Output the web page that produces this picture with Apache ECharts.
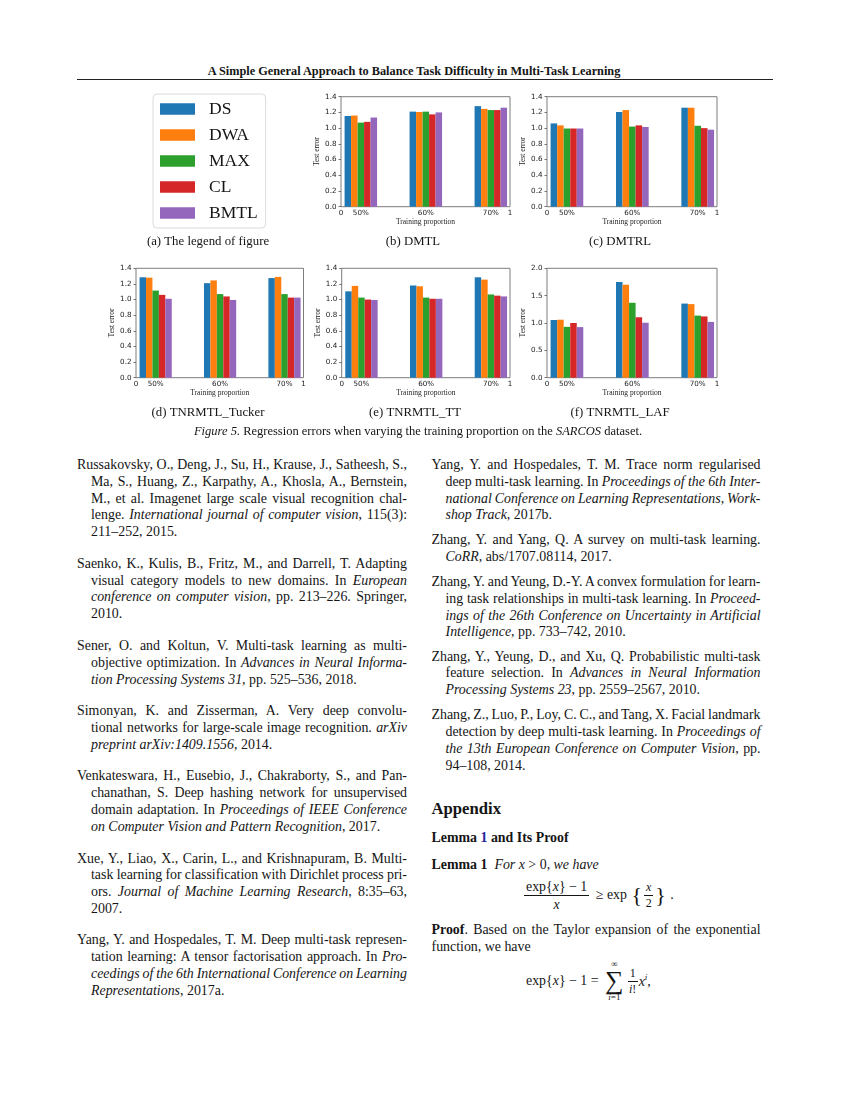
<!DOCTYPE html>
<html>
<head>
<meta charset="utf-8">
<script src="https://cdn.jsdelivr.net/npm/echarts@6/dist/echarts.min.js"></script>
<style>
html,body{margin:0;padding:0;background:#fff;}
#page{position:relative;width:850px;height:1100px;overflow:hidden;font-family:"Liberation Serif","Times New Roman",serif;color:#151515;background:#fff;}
#chart{position:absolute;left:0;top:0;width:850px;height:450px;}
.ln{position:absolute;height:16.8px;line-height:16.8px;font-size:13.9px;white-space:nowrap;}
.abs{position:absolute;white-space:nowrap;}
.math{position:absolute;display:flex;align-items:center;font-size:13.9px;white-space:nowrap;}
.frac{display:inline-flex;flex-direction:column;align-items:center;margin:0 3px;}
.frac .num{border-bottom:0.9px solid #151515;padding:0 2px;line-height:17px;}
.frac .den{line-height:17px;}
.big{font-size:22px;line-height:22px;margin:0 1px;}
.sumcol{display:inline-flex;flex-direction:column;align-items:center;margin:0 3px;}
.sumcol .lim{font-size:9px;line-height:11px;}
.sumcol .sig{font-size:26px;line-height:22px;}
</style>
</head>
<body>
<div id="page">
  <div class="abs" id="title" style="left:414px;top:64px;transform:translateX(-50%);font-weight:bold;font-size:12.3px;line-height:14px;">A Simple General Approach to Balance Task Difficulty in Multi-Task Learning</div>
  <div class="abs" style="left:77px;top:79px;width:696px;height:1.4px;background:#222;"></div>
  <div id="chart"></div>
  <div class="abs" style="left:418px;top:424px;transform:translateX(-50%);font-size:12.5px;line-height:15px;"><i>Figure 5.</i> Regression errors when varying the training proportion on the <i>SARCOS</i> dataset.</div>
</div>
<script>
// ---------------- data ----------------
const methods = ['DS', 'DWA', 'MAX', 'CL', 'BMTL'];
const proportions = ['50%', '60%', '70%'];
const groupPos = [0, 1, 2];
const xTickPos = [-0.305, 0, 1, 2, 2.295];
const xTickLabels = ['0', '50%', '60%', '70%', '1'];
const methodColors = ['#1f77b4', '#ff7f0e', '#2ca02c', '#d62728', '#9467bd'];

// rows = methods (DS, DWA, MAX, CL, BMTL), columns = proportions (50%, 60%, 70%)
const errDMTL = [
  [1.155, 1.21, 1.28],
  [1.16, 1.205, 1.245],
  [1.07, 1.21, 1.23],
  [1.08, 1.175, 1.23],
  [1.135, 1.20, 1.26]
];
const errDMTRL = [
  [1.06, 1.205, 1.26],
  [1.035, 1.23, 1.26],
  [0.995, 1.02, 1.03],
  [0.995, 1.035, 1.0],
  [0.995, 1.015, 0.98]
];
const errTucker = [
  [1.285, 1.21, 1.275],
  [1.28, 1.245, 1.29],
  [1.115, 1.07, 1.07],
  [1.06, 1.04, 1.025],
  [1.01, 0.995, 1.025]
];
const errTT = [
  [1.105, 1.18, 1.285],
  [1.175, 1.17, 1.255],
  [1.025, 1.025, 1.065],
  [1.0, 1.01, 1.05],
  [0.995, 1.01, 1.04]
];
const errLAF = [
  [1.055, 1.75, 1.355],
  [1.06, 1.70, 1.345],
  [0.93, 1.37, 1.135],
  [1.0, 1.105, 1.12],
  [0.925, 1.005, 1.02]
];
const panelData = [errDMTL, errDMTRL, errTucker, errTT, errLAF];
const panelYMax = [1.4, 1.4, 1.4, 1.4, 2.0];
const panelYStep = [0.2, 0.2, 0.2, 0.2, 0.5];
const subCaptions = ['(a) The legend of figure', '(b) DMTL', '(c) DMTRL', '(d) TNRMTL_Tucker', '(e) TNRMTL_TT', '(f) TNRMTL_LAF'];
const xAxisTitle = 'Training proportion';
const yAxisTitle = 'Test error';

// ---------------- layout ----------------
const gridBoxes = [
  {left: 341, top: 96.7, width: 169, height: 110},
  {left: 547, top: 96.7, width: 170, height: 110},
  {left: 136, top: 268.3, width: 167.5, height: 109.4},
  {left: 341.7, top: 268.3, width: 168.3, height: 109.4},
  {left: 547, top: 268.3, width: 170, height: 109.4}
];
const captionPos = [[208, 242], [413, 242], [620, 242], [208, 413], [415, 413], [620, 413]];
const xSpan = xTickPos[xTickPos.length - 1] - xTickPos[0];

const chart = echarts.init(document.getElementById('chart'), null, {renderer: 'canvas'});
const tickFont = 'DejaVu Sans';
const serif = 'Liberation Serif';

const series = [];
panelData.forEach((arr, p) => {
  const bw = gridBoxes[p].width / xSpan * 0.1;
  methods.forEach((m, k) => {
    series.push({
      type: 'bar',
      name: m,
      xAxisIndex: p,
      yAxisIndex: p,
      barWidth: bw,
      barGap: '0%',
      itemStyle: {color: methodColors[k]},
      data: groupPos.map((x, j) => [x, arr[k][j]])
    });
  });
});

const option = {
  animation: false,
  tooltip: {show: false},
  legend: {
    orient: 'vertical',
    left: 153,
    top: 94,
    data: methods,
    selectedMode: false,
    icon: 'rect',
    itemWidth: 35,
    itemHeight: 11.5,
    itemGap: 8,
    padding: [6, 8, 6, 7],
    borderColor: '#dadada',
    borderWidth: 1,
    borderRadius: 4,
    textStyle: {fontFamily: serif, fontSize: 17.5, color: '#151515', lineHeight: 17, padding: [0, 0, 0, 9]}
  },
  grid: gridBoxes.map(g => Object.assign({show: true, borderColor: '#7d7d7d', borderWidth: 1, backgroundColor: '#fff'}, g)),
  xAxis: gridBoxes.map((g, i) => ({
    gridIndex: i,
    type: 'value',
    min: xTickPos[0],
    max: xTickPos[xTickPos.length - 1],
    splitLine: {show: false},
    axisLine: {show: false, onZero: false},
    axisTick: {show: false},
    axisLabel: {
      customValues: xTickPos,
      showMinLabel: true,
      showMaxLabel: true,
      margin: 3,
      fontFamily: tickFont,
      fontSize: 7.2,
      color: '#222',
      formatter: v => {
        const idx = xTickPos.findIndex(t => Math.abs(t - v) < 1e-6);
        return idx >= 0 ? xTickLabels[idx] : '';
      }
    },
    name: xAxisTitle,
    nameLocation: 'middle',
    nameGap: 11.5,
    nameTextStyle: {fontFamily: serif, fontSize: 7.5, color: '#222'}
  })),
  yAxis: gridBoxes.map((g, i) => ({
    gridIndex: i,
    type: 'value',
    min: 0,
    max: panelYMax[i],
    interval: panelYStep[i],
    splitLine: {show: false},
    axisLine: {show: false, onZero: false},
    axisTick: {show: true, length: 2.5, lineStyle: {color: '#555', width: 0.8}},
    axisLabel: {
      margin: 4.5,
      fontFamily: tickFont,
      fontSize: 7.2,
      color: '#222',
      formatter: v => v.toFixed(1)
    },
    name: yAxisTitle,
    nameLocation: 'middle',
    nameGap: 19,
    nameTextStyle: {fontFamily: serif, fontSize: 7.5, color: '#222'}
  })),
  graphic: subCaptions.map((t, i) => ({
    type: 'text',
    x: captionPos[i][0],
    y: captionPos[i][1],
    style: {
      text: t,
      font: '12.8px "Liberation Serif"',
      fill: '#151515',
      textAlign: 'center',
      align: 'center',
      textVerticalAlign: 'middle',
      verticalAlign: 'middle'
    }
  })),
  series: series
};
chart.setOption(option);

// ---------------- body text ----------------
const page = document.getElementById('page');
const LH = 16.8;
const toJustify = [];
function addPara(x, width, centerY, lines, indent) {
  lines.forEach((html, k) => {
    const d = document.createElement('div');
    d.className = 'ln';
    const ind = k > 0 ? indent : 0;
    d.style.left = (x + ind) + 'px';
    d.style.top = (centerY + k * LH - LH / 2) + 'px';
    const s = document.createElement('span');
    s.innerHTML = html;
    d.appendChild(s);
    page.appendChild(d);
    if (k < lines.length - 1) toJustify.push([s, width - ind]);
  });
}

const leftRefs = [
  [465.3, [
    'Russakovsky, O., Deng, J., Su, H., Krause, J., Satheesh, S.,',
    'Ma, S., Huang, Z., Karpathy, A., Khosla, A., Bernstein,',
    'M., et al. Imagenet large scale visual recognition chal-',
    'lenge. <i>International journal of computer vision</i>, 115(3):',
    '211–252, 2015.']],
  [564.2, [
    'Saenko, K., Kulis, B., Fritz, M., and Darrell, T. Adapting',
    'visual category models to new domains. In <i>European</i>',
    '<i>conference on computer vision</i>, pp. 213–226. Springer,',
    '2010.']],
  [646.4, [
    'Sener, O. and Koltun, V. Multi-task learning as multi-',
    'objective optimization. In <i>Advances in Neural Informa-</i>',
    '<i>tion Processing Systems 31</i>, pp. 525–536, 2018.']],
  [711.7, [
    'Simonyan, K. and Zisserman, A. Very deep convolu-',
    'tional networks for large-scale image recognition. <i>arXiv</i>',
    '<i>preprint arXiv:1409.1556</i>, 2014.']],
  [776.8, [
    'Venkateswara, H., Eusebio, J., Chakraborty, S., and Pan-',
    'chanathan, S. Deep hashing network for unsupervised',
    'domain adaptation. In <i>Proceedings of IEEE Conference</i>',
    '<i>on Computer Vision and Pattern Recognition</i>, 2017.']],
  [858.9, [
    'Xue, Y., Liao, X., Carin, L., and Krishnapuram, B. Multi-',
    'task learning for classification with Dirichlet process pri-',
    'ors. <i>Journal of Machine Learning Research</i>, 8:35–63,',
    '2007.']],
  [940.8, [
    'Yang, Y. and Hospedales, T. M. Deep multi-task represen-',
    'tation learning: A tensor factorisation approach. In <i>Pro-</i>',
    '<i>ceedings of the 6th International Conference on Learning</i>',
    '<i>Representations</i>, 2017a.']]
];
const rightRefs = [
  [465.3, [
    'Yang, Y. and Hospedales, T. M. Trace norm regularised',
    'deep multi-task learning. In <i>Proceedings of the 6th Inter-</i>',
    '<i>national Conference on Learning Representations, Work-</i>',
    '<i>shop Track</i>, 2017b.']],
  [540.8, [
    'Zhang, Y. and Yang, Q. A survey on multi-task learning.',
    '<i>CoRR</i>, abs/1707.08114, 2017.']],
  [582.3, [
    'Zhang, Y. and Yeung, D.-Y. A convex formulation for learn-',
    'ing task relationships in multi-task learning. In <i>Proceed-</i>',
    '<i>ings of the 26th Conference on Uncertainty in Artificial</i>',
    '<i>Intelligence</i>, pp. 733–742, 2010.']],
  [657.0, [
    'Zhang, Y., Yeung, D., and Xu, Q. Probabilistic multi-task',
    'feature selection. In <i>Advances in Neural Information</i>',
    '<i>Processing Systems 23</i>, pp. 2559–2567, 2010.']],
  [715.5, [
    'Zhang, Z., Luo, P., Loy, C. C., and Tang, X. Facial landmark',
    'detection by deep multi-task learning. In <i>Proceedings of</i>',
    '<i>the 13th European Conference on Computer Vision</i>, pp.',
    '94–108, 2014.']]
];
const LX = 77, LW = 330, RX = 431.5, RW = 329, IND = 14;
leftRefs.forEach(p => addPara(LX, LW, p[0], p[1], IND));
rightRefs.forEach(p => addPara(RX, RW, p[0], p[1], IND));
addPara(RX, RW, 930.2, ['<b>Proof</b>. Based on the Taylor expansion of the exponential', 'function, we have'], 0);

function el(html, style) {
  const d = document.createElement('div');
  d.className = 'abs';
  d.style.cssText += style;
  d.innerHTML = html;
  page.appendChild(d);
  return d;
}
el('Appendix', 'left:' + RX + 'px;top:799px;font-size:16.7px;line-height:20px;font-weight:bold;');
el('Lemma <span style="color:#25259a">1</span> and Its Proof', 'left:' + RX + 'px;top:829px;font-size:13.9px;line-height:17px;font-weight:bold;');
el('<b>Lemma 1</b>&nbsp;&nbsp;<i>For</i> <i>x</i> &gt; 0<i>, we have</i>', 'left:' + RX + 'px;top:855.5px;font-size:13.9px;line-height:17px;');

const m1 = document.createElement('div');
m1.className = 'math';
m1.style.cssText += 'left:521px;top:875px;height:40px;';
m1.innerHTML = '<span class="frac"><span class="num">exp{<i>x</i>} − 1</span><span class="den"><i>x</i></span></span>' +
  '<span>&nbsp;≥ exp&nbsp;</span><span class="big">{</span>' +
  '<span class="frac" style="margin:0 1px;font-size:12px"><span class="num" style="line-height:15px"><i>x</i></span><span class="den" style="line-height:15px">2</span></span>' +
  '<span class="big">}</span><span>&nbsp;.</span>';
page.appendChild(m1);

const m2 = document.createElement('div');
m2.className = 'math';
m2.style.cssText += 'left:526px;top:958px;height:46px;';
m2.innerHTML = '<span>exp{<i>x</i>} − 1 =&nbsp;</span>' +
  '<span class="sumcol"><span class="lim">∞</span><span class="sig">∑</span><span class="lim"><i>i</i>=1</span></span>' +
  '<span class="frac" style="margin:0 1px;font-size:12px"><span class="num" style="line-height:15px">1</span><span class="den" style="line-height:15px"><i>i</i>!</span></span>' +
  '<span><i>x</i><sup style="font-size:9px"><i>i</i></sup>,</span>';
page.appendChild(m2);

function justifyAll() {
  toJustify.forEach(([s, w]) => {
    s.style.wordSpacing = '0px';
    const nat = s.getBoundingClientRect().width;
    const n = (s.textContent.match(/ /g) || []).length;
    if (n > 0) s.style.wordSpacing = ((w - nat) / n) + 'px';
  });
}
justifyAll();
if (document.fonts && document.fonts.ready) document.fonts.ready.then(justifyAll);
</script>
</body>
</html>
